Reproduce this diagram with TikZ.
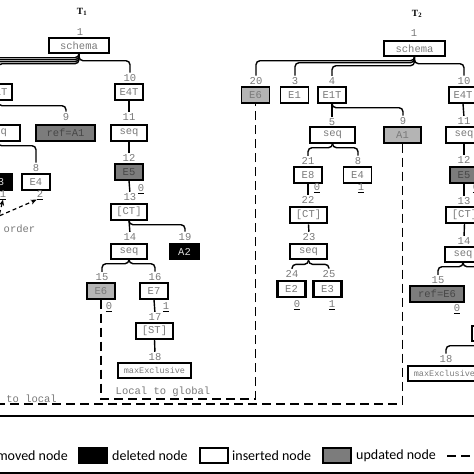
\documentclass[tikz,border=0pt]{standalone}
\usepackage{fontspec}
\setmainfont{Liberation Serif}
\setsansfont{Carlito}
\setmonofont{Liberation Mono}
\usepackage{tikz}
\usetikzlibrary{arrows.meta}
\definecolor{txtgray}{HTML}{7A7A7A}
\definecolor{movedgray}{HTML}{B4B4B4}
\definecolor{updgray}{HTML}{7C7C7C}
\tikzset{
  tn/.style={draw, line width=1.4pt, inner sep=0pt, minimum width=28, minimum height=16, font=\ttfamily\fontsize{10.5}{10.5}\selectfont, text=txtgray},
  ins/.style={tn, line width=2.6pt},
  moved/.style={tn, fill=movedgray},
  upd/.style={tn, fill=updgray, text=black!72},
  del/.style={tn, fill=black, text=white!85!black},
  num/.style={inner sep=0pt, font=\ttfamily\fontsize{10.5}{10.5}\selectfont, text=txtgray},
  ord/.style={inner sep=0pt, font=\ttfamily\fontsize{10.5}{10.5}\selectfont},
  ttl/.style={inner sep=0pt, font=\rmfamily\bfseries\fontsize{9.5}{9.5}\selectfont},
  leg/.style={inner sep=0pt, font=\sffamily\fontsize{14}{14}\selectfont},
  link/.style={line width=1.4pt, rounded corners=4pt, shorten >=1.5pt},
  dlink/.style={line width=1.6pt, dash pattern=on 9pt off 5pt},
}
\newcommand{\ordno}[1]{\underline{\textcolor{txtgray}{#1}}}

\begin{document}
\begin{tikzpicture}[x=1pt, y=-1pt]
\useasboundingbox (0,0) rectangle (474,474);
\clip (0,0) rectangle (474,474);

% tree T1
\node[ttl] (t1) at (82,12) {T$_{\mathbf{1}}$};
\node[num] (l1a) at (80,32) {1};
\node[tn, minimum width=60, minimum height=15] (s1) at (79,45.5) {schema};
\coordinate (c2a) at (-120,76);
\coordinate (c3a) at (-80,76);
\coordinate (c4a) at (-40,76);
\coordinate (c5a) at (-2,76);
\node[num] (l10a) at (130,78) {10};
\node[tn] (e1ta) at (-2,92) {E1T};
\node[tn] (e4ta) at (129,92) {E4T};
\node[num] (l9a) at (66,117) {9};
\node[num] (l11a) at (129,117) {11};
\node[tn, minimum width=45] (sq5a) at (-2.5,133) {seq};
\node[upd, minimum width=59] (ra1) at (65.5,133) {ref=A1};
\node[tn, minimum width=36] (sq11a) at (129,133) {seq};
\node[num] (l8a) at (36,168) {8};
\node[num] (l12a) at (129,158) {12};
\node[del] (e3a) at (-2,182) {E3};
\node[tn] (e4a) at (36,182) {E4};
\node[upd] (e5a) at (129,172) {E5};
\node[ord] (o3a) at (3,195) {\ordno{1}};
\node[ord] (o4a) at (40,195) {\ordno{2}};
\node[ord] (o5a) at (141,189) {\ordno{0}};
\node[num] (ordtxt) at (19.5,229) {order};
\node[num] (l13a) at (130,197) {13};
\node[tn, minimum width=36] (cta) at (129,212) {[CT]};
\node[num] (l14a) at (130,237) {14};
\node[num] (l19a) at (185,237) {19};
\node[tn, minimum width=36, minimum height=15] (sq14a) at (129,251.5) {seq};
\node[del, minimum width=29, minimum height=15] (a2a) at (184.5,251.5) {A2};
\node[num] (l15a) at (102,277) {15};
\node[num] (l16a) at (155,277) {16};
\node[moved] (e6a) at (101,291) {E6};
\node[tn] (e7a) at (154,291) {E7};
\node[ord] (o6a) at (109,307) {\ordno{0}};
\node[ord] (o7a) at (166,307) {\ordno{1}};
\node[num] (l17a) at (155,317) {17};
\node[tn, minimum width=37] (sta) at (154.5,331) {[ST]};
\node[num] (l18a) at (155,357) {18};
\node[tn, minimum width=73, minimum height=15, font=\ttfamily\fontsize{8.5}{8.5}\selectfont] (mxa) at (154.5,370.5) {maxExclusive};

\draw[link] (s1.south) -- ++(0,4) -| (c2a);
\draw[link] (s1.south) -- ++(0,6) -| (c3a);
\draw[link] (s1.south) -- ++(0,8) -| (c4a);
\draw[link] (s1.south) -- ++(0,10) -| (c5a);
\draw[link] (s1.south) -- ++(0,7) -| (l10a.north);
\draw[link] (e1ta.south) -- ++(0,5) -| (l9a.north);
\draw[link] (e1ta.south) -- (sq5a.north);
\draw[link] (sq5a.south) -- ++(0,4) -| (l8a.north);
\draw[link] (sq5a.south) -- (e3a.north);
\draw[link] (e4ta.south) -- (l11a.north);
\draw[link] (sq11a.south) -- (l12a.north);
\draw[link] (e5a.south) -- (l13a.north);
\draw[link] (cta.south) -- (l14a.north);
\draw[link] (cta.south) -- ++(0,4) -| (l19a.north);
\draw[link] (sq14a.south) -- ++(0,4) -| (l15a.north);
\draw[link] (sq14a.south) -- ++(0,4) -| (l16a.north);
\draw[link] (e7a.south) -- (l17a.north);
\draw[link] (sta.south) -- (l18a.north);
\draw[line width=1.2pt, dash pattern=on 4pt off 3pt, {Stealth[length=6pt,width=5pt]}-{Stealth[length=6pt,width=5pt]}] (o3a.south) -- (-1,216) -- (o4a.south west);

% tree T2
\node[ttl] (t2) at (417,14) {T$_{\mathbf{2}}$};
\node[num] (l1b) at (414,33) {1};
\node[tn, minimum width=61, minimum height=15] (s2) at (414.5,48.5) {schema};
\node[num] (l20b) at (256,81) {20};
\node[num] (l3b) at (295,81) {3};
\node[num] (l4b) at (332,81) {4};
\node[num] (l10b) at (464,81) {10};
\node[moved] (e6b) at (255.5,95) {E6};
\node[tn] (e1b) at (294.5,95) {E1};
\node[tn] (e1tb) at (332,95) {E1T};
\node[tn] (e4tb) at (463,95) {E4T};
\node[num] (l5b) at (332,122) {5};
\node[num] (l9b) at (403,121) {9};
\node[num] (l11b) at (464,121) {11};
\node[tn, minimum width=45] (sq5b) at (332.5,135) {seq};
\node[moved, minimum width=37] (a1b) at (402.5,135) {A1};
\node[tn, minimum width=36] (sq11b) at (464,135) {seq};
\node[num] (l21b) at (308,161) {21};
\node[num] (l8b) at (358,161) {8};
\node[num] (l12b) at (464,160) {12};
\node[ins] (e8b) at (308,175) {E8};
\node[tn] (e4b) at (357.5,175) {E4};
\node[upd] (e5b) at (464,175) {E5};
\node[ord] (o8b) at (317,188) {\ordno{0}};
\node[ord] (o4b) at (361,188) {\ordno{1}};
\node[ord] (o5b) at (476,188) {\ordno{0}};
\node[num] (l22b) at (308,200) {22};
\node[num] (l13b) at (464,201) {13};
\node[ins, minimum width=37] (ctb) at (308.5,215) {[CT]};
\node[tn, minimum width=37] (ct13b) at (464.5,215) {[CT]};
\node[num] (l23b) at (309,237) {23};
\node[num] (l14b) at (464,241) {14};
\node[ins, minimum width=37, minimum height=15] (sq23b) at (308.5,251.5) {seq};
\node[tn, minimum width=36, minimum height=15] (sq14b) at (463,254.5) {seq};
\node[num] (l24b) at (292,274) {24};
\node[num] (l25b) at (329,274) {25};
\node[num] (l15b) at (438,280) {15};
\coordinate (c16b) at (490,273);
\node[ins] (e2b) at (291.5,289) {E2};
\node[ins] (e3b) at (327.5,289) {E3};
\node[upd, minimum width=54] (re6b) at (437,294) {ref=E6};
\node[ord] (o2b) at (297,305) {\ordno{0}};
\node[ord] (o3b) at (332,305) {\ordno{1}};
\node[ord] (o15b) at (457,309) {\ordno{0}};
\node[tn, minimum width=37, minimum height=15] (stb) at (490.5,333.5) {[ST]};
\node[num] (l18b) at (446,359) {18};
\node[tn, minimum width=73, minimum height=15, font=\ttfamily\fontsize{8.5}{8.5}\selectfont] (mxb) at (444.5,373.5) {maxExclusive};

\draw[link] (s2.south) -- ++(0,4) -| (l20b.north);
\draw[link] (s2.south) -- ++(0,6) -| (l3b.north);
\draw[link] (s2.south) -- ++(0,9) -| (l4b.north);
\draw[link] (s2.south) -- ++(0,7) -| (l10b.north);
\draw[link] (e1tb.south) -- (l5b.north);
\draw[link] (e1tb.south) -- ++(0,4) -| (l9b.north);
\draw[link] (sq5b.south) -- ++(0,4) -| (l21b.north);
\draw[link] (sq5b.south) -- ++(0,4) -| (l8b.north);
\draw[link] (e8b.south) -- (l22b.north);
\draw[link] (ctb.south) -- (l23b.north);
\draw[link] (sq23b.south) -- ++(0,4) -| (l24b.north);
\draw[link] (sq23b.south) -- ++(0,4) -| (l25b.north);
\draw[link] (e4tb.south) -- (l11b.north);
\draw[link] (sq11b.south) -- (l12b.north);
\draw[link] (e5b.south) -- (l13b.north);
\draw[link] (ct13b.south) -- (l14b.north);
\draw[link] (sq14b.south) -- ++(0,4) -| (l15b.north);
\draw[link] (sq14b.south) -- ++(0,4) -| (c16b);
\draw[link] (stb.south) -- ++(0,4) -| (l18b.north);

% moves between the trees
\coordinate (glob) at (-40,404);
\draw[dlink] (e6a.south) -- ++(0,99) -| (e6b.south);
\draw[dlink] (a1b.south) |- (glob);
\node[num] (lgtxt) at (163,392) {Local to global};
\node[num, anchor=east] (gltxt) at (57,399) {Global to local};

% legend
\coordinate (sep1) at (0,416);
\coordinate (sep2) at (474,416);
\coordinate (bot1) at (0,473);
\coordinate (bot2) at (474,473);
\draw[line width=1.2pt] (sep1) -- (sep2);
\draw[line width=2.5pt] (bot1) -- (bot2);
\node[leg, anchor=east] (lmv) at (68,456) {moved node};
\node[del, minimum height=15] (swd) at (93,455.5) {};
\node[leg, anchor=west] (ldl) at (112,456) {deleted node};
\node[tn, line width=2pt, minimum height=15] (swi) at (213.5,455.5) {};
\node[leg, anchor=west] (lin) at (232,456) {inserted node};
\node[upd, minimum height=15] (swu) at (337,455.5) {};
\node[leg, anchor=west] (lup) at (356,456) {updated node};
\coordinate (dl1) at (447,456);
\coordinate (dl2) at (490,456);
\draw[dlink] (dl1) -- (dl2);
\end{tikzpicture}
\end{document}
